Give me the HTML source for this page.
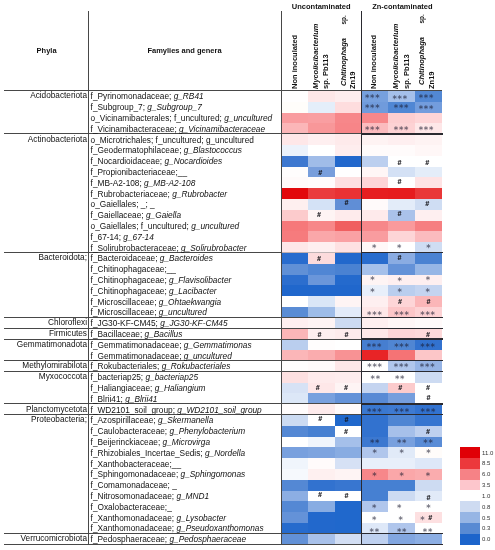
<!DOCTYPE html>
<html><head><meta charset="utf-8"><title>Heatmap</title>
<style>
html,body{margin:0;padding:0;background:#fff}
body{width:495px;height:550px;position:relative;overflow:hidden;font-family:"Liberation Sans",Arial,sans-serif;color:#111}
.c{position:absolute}
.ph{position:absolute;left:0;width:87px;margin-top:0.8px;text-align:right;font-size:8.25px;line-height:10.8px;height:10.8px;white-space:nowrap}
.fa{position:absolute;left:90.6px;margin-top:0.8px;font-size:8.3px;line-height:10.8px;height:10.8px;white-space:nowrap}
.m{position:absolute;text-align:center;white-space:nowrap;color:rgba(25,25,45,0.64)}
.st{font-family:"DejaVu Sans",sans-serif;font-size:8.4px;font-weight:bold;letter-spacing:0.8px;text-indent:0.8px;line-height:10.8px}
.hs{font-size:6.9px;font-style:italic;font-weight:bold;line-height:10.8px;color:#15151a;-webkit-text-stroke:0.15px #15151a}
.ln{position:absolute;background:#484848}
.tk{position:absolute;background:#2a2a30}
.hd{position:absolute;font-weight:bold;font-size:7.5px;white-space:nowrap;line-height:9px;color:#111}
.rot{position:absolute;font-weight:bold;font-size:7.5px;white-space:nowrap;line-height:9px;transform-origin:0 0;transform:rotate(-90deg);color:#111}
.lg{position:absolute;left:460.3px;width:19.8px}
.ll{position:absolute;left:482px;font-size:6px;line-height:10.8px;color:#333}
</style></head><body>

<div class="c" style="left:282px;top:91px;width:26px;height:11px;background:rgb(255,254,254)"></div>
<div class="c" style="left:308px;top:91px;width:27px;height:11px;background:rgb(254,231,232)"></div>
<div class="c" style="left:335px;top:91px;width:27px;height:11px;background:rgb(254,237,238)"></div>
<div class="c" style="left:362px;top:91px;width:26px;height:11px;background:rgb(118,160,222)"></div>
<div class="c" style="left:388px;top:91px;width:27px;height:11px;background:rgb(165,192,234)"></div>
<div class="c" style="left:415px;top:91px;width:27px;height:11px;background:rgb(82,136,212)"></div>
<div class="c" style="left:282px;top:102px;width:26px;height:11px;background:rgb(255,253,250)"></div>
<div class="c" style="left:308px;top:102px;width:27px;height:11px;background:rgb(228,238,250)"></div>
<div class="c" style="left:335px;top:102px;width:27px;height:11px;background:rgb(254,221,222)"></div>
<div class="c" style="left:362px;top:102px;width:26px;height:11px;background:rgb(112,155,220)"></div>
<div class="c" style="left:388px;top:102px;width:27px;height:11px;background:rgb(80,135,212)"></div>
<div class="c" style="left:415px;top:102px;width:27px;height:11px;background:rgb(115,157,221)"></div>
<div class="c" style="left:282px;top:113px;width:26px;height:10px;background:rgb(249,156,159)"></div>
<div class="c" style="left:308px;top:113px;width:27px;height:10px;background:rgb(249,158,161)"></div>
<div class="c" style="left:335px;top:113px;width:27px;height:10px;background:rgb(247,135,138)"></div>
<div class="c" style="left:362px;top:113px;width:26px;height:10px;background:rgb(247,135,138)"></div>
<div class="c" style="left:388px;top:113px;width:27px;height:10px;background:rgb(253,206,208)"></div>
<div class="c" style="left:415px;top:113px;width:27px;height:10px;background:rgb(254,213,215)"></div>
<div class="c" style="left:282px;top:123px;width:26px;height:11px;background:rgb(251,182,184)"></div>
<div class="c" style="left:308px;top:123px;width:27px;height:11px;background:rgb(248,151,153)"></div>
<div class="c" style="left:335px;top:123px;width:27px;height:11px;background:rgb(247,133,136)"></div>
<div class="c" style="left:362px;top:123px;width:26px;height:11px;background:rgb(251,187,190)"></div>
<div class="c" style="left:388px;top:123px;width:27px;height:11px;background:rgb(253,210,212)"></div>
<div class="c" style="left:415px;top:123px;width:27px;height:11px;background:rgb(254,231,232)"></div>
<div class="c" style="left:282px;top:134px;width:26px;height:11px;background:rgb(254,231,232)"></div>
<div class="c" style="left:308px;top:134px;width:27px;height:11px;background:rgb(254,239,240)"></div>
<div class="c" style="left:335px;top:134px;width:27px;height:11px;background:rgb(254,234,235)"></div>
<div class="c" style="left:362px;top:134px;width:26px;height:11px;background:rgb(254,243,243)"></div>
<div class="c" style="left:388px;top:134px;width:27px;height:11px;background:rgb(254,239,240)"></div>
<div class="c" style="left:415px;top:134px;width:27px;height:11px;background:rgb(254,243,243)"></div>
<div class="c" style="left:282px;top:145px;width:26px;height:11px;background:rgb(236,242,251)"></div>
<div class="c" style="left:335px;top:145px;width:27px;height:11px;background:rgb(254,237,238)"></div>
<div class="c" style="left:362px;top:145px;width:26px;height:11px;background:rgb(255,251,251)"></div>
<div class="c" style="left:388px;top:145px;width:27px;height:11px;background:rgb(255,251,251)"></div>
<div class="c" style="left:415px;top:145px;width:27px;height:11px;background:rgb(255,247,247)"></div>
<div class="c" style="left:282px;top:156px;width:26px;height:11px;background:rgb(62,120,208)"></div>
<div class="c" style="left:308px;top:156px;width:27px;height:11px;background:rgb(160,188,232)"></div>
<div class="c" style="left:335px;top:156px;width:27px;height:11px;background:rgb(34,104,204)"></div>
<div class="c" style="left:362px;top:156px;width:26px;height:11px;background:rgb(188,207,239)"></div>
<div class="c" style="left:282px;top:167px;width:26px;height:10px;background:rgb(255,253,253)"></div>
<div class="c" style="left:308px;top:167px;width:27px;height:10px;background:rgb(120,158,220)"></div>
<div class="c" style="left:362px;top:167px;width:26px;height:10px;background:rgb(255,246,246)"></div>
<div class="c" style="left:388px;top:167px;width:27px;height:10px;background:rgb(212,225,245)"></div>
<div class="c" style="left:415px;top:167px;width:27px;height:10px;background:rgb(228,237,249)"></div>
<div class="c" style="left:282px;top:177px;width:26px;height:11px;background:rgb(255,250,250)"></div>
<div class="c" style="left:308px;top:177px;width:27px;height:11px;background:rgb(255,252,252)"></div>
<div class="c" style="left:335px;top:177px;width:27px;height:11px;background:rgb(253,224,225)"></div>
<div class="c" style="left:362px;top:177px;width:26px;height:11px;background:rgb(253,213,215)"></div>
<div class="c" style="left:415px;top:177px;width:27px;height:11px;background:rgb(254,227,228)"></div>
<div class="c" style="left:282px;top:188px;width:26px;height:11px;background:rgb(226,8,12)"></div>
<div class="c" style="left:308px;top:188px;width:27px;height:11px;background:rgb(234,60,61)"></div>
<div class="c" style="left:335px;top:188px;width:27px;height:11px;background:rgb(233,50,52)"></div>
<div class="c" style="left:362px;top:188px;width:26px;height:11px;background:rgb(230,30,32)"></div>
<div class="c" style="left:388px;top:188px;width:27px;height:11px;background:rgb(230,28,30)"></div>
<div class="c" style="left:415px;top:188px;width:27px;height:11px;background:rgb(233,55,56)"></div>
<div class="c" style="left:282px;top:199px;width:26px;height:11px;background:rgb(254,239,239)"></div>
<div class="c" style="left:308px;top:199px;width:27px;height:11px;background:rgb(212,226,246)"></div>
<div class="c" style="left:335px;top:199px;width:27px;height:11px;background:rgb(96,142,214)"></div>
<div class="c" style="left:362px;top:199px;width:26px;height:11px;background:rgb(255,250,250)"></div>
<div class="c" style="left:388px;top:199px;width:27px;height:11px;background:rgb(227,236,249)"></div>
<div class="c" style="left:415px;top:199px;width:27px;height:11px;background:rgb(207,221,243)"></div>
<div class="c" style="left:282px;top:210px;width:26px;height:11px;background:rgb(252,203,204)"></div>
<div class="c" style="left:308px;top:210px;width:27px;height:11px;background:rgb(254,244,244)"></div>
<div class="c" style="left:335px;top:210px;width:27px;height:11px;background:rgb(254,235,236)"></div>
<div class="c" style="left:362px;top:210px;width:26px;height:11px;background:rgb(254,234,235)"></div>
<div class="c" style="left:388px;top:210px;width:27px;height:11px;background:rgb(170,194,234)"></div>
<div class="c" style="left:415px;top:210px;width:27px;height:11px;background:rgb(254,239,240)"></div>
<div class="c" style="left:282px;top:221px;width:26px;height:10px;background:rgb(246,120,122)"></div>
<div class="c" style="left:308px;top:221px;width:27px;height:10px;background:rgb(247,135,137)"></div>
<div class="c" style="left:335px;top:221px;width:27px;height:10px;background:rgb(240,95,96)"></div>
<div class="c" style="left:362px;top:221px;width:26px;height:10px;background:rgb(247,135,138)"></div>
<div class="c" style="left:388px;top:221px;width:27px;height:10px;background:rgb(249,154,156)"></div>
<div class="c" style="left:415px;top:221px;width:27px;height:10px;background:rgb(246,127,129)"></div>
<div class="c" style="left:282px;top:231px;width:26px;height:11px;background:rgb(246,123,125)"></div>
<div class="c" style="left:308px;top:231px;width:27px;height:11px;background:rgb(250,167,169)"></div>
<div class="c" style="left:335px;top:231px;width:27px;height:11px;background:rgb(250,161,164)"></div>
<div class="c" style="left:362px;top:231px;width:26px;height:11px;background:rgb(249,156,159)"></div>
<div class="c" style="left:388px;top:231px;width:27px;height:11px;background:rgb(253,213,215)"></div>
<div class="c" style="left:415px;top:231px;width:27px;height:11px;background:rgb(251,187,190)"></div>
<div class="c" style="left:282px;top:242px;width:26px;height:11px;background:rgb(254,231,232)"></div>
<div class="c" style="left:308px;top:242px;width:27px;height:11px;background:rgb(254,239,240)"></div>
<div class="c" style="left:335px;top:242px;width:27px;height:11px;background:rgb(254,225,226)"></div>
<div class="c" style="left:362px;top:242px;width:26px;height:11px;background:rgb(255,247,247)"></div>
<div class="c" style="left:415px;top:242px;width:27px;height:11px;background:rgb(207,221,243)"></div>
<div class="c" style="left:282px;top:253px;width:26px;height:11px;background:rgb(40,108,206)"></div>
<div class="c" style="left:308px;top:253px;width:27px;height:11px;background:rgb(252,219,220)"></div>
<div class="c" style="left:335px;top:253px;width:27px;height:11px;background:rgb(34,104,204)"></div>
<div class="c" style="left:362px;top:253px;width:26px;height:11px;background:rgb(40,108,206)"></div>
<div class="c" style="left:388px;top:253px;width:27px;height:11px;background:rgb(138,172,226)"></div>
<div class="c" style="left:415px;top:253px;width:27px;height:11px;background:rgb(74,130,210)"></div>
<div class="c" style="left:282px;top:264px;width:26px;height:11px;background:rgb(96,144,214)"></div>
<div class="c" style="left:308px;top:264px;width:27px;height:11px;background:rgb(80,134,212)"></div>
<div class="c" style="left:335px;top:264px;width:27px;height:11px;background:rgb(74,130,210)"></div>
<div class="c" style="left:362px;top:264px;width:26px;height:11px;background:rgb(165,192,234)"></div>
<div class="c" style="left:388px;top:264px;width:27px;height:11px;background:rgb(100,146,216)"></div>
<div class="c" style="left:415px;top:264px;width:27px;height:11px;background:rgb(150,182,230)"></div>
<div class="c" style="left:282px;top:275px;width:26px;height:10px;background:rgb(44,110,206)"></div>
<div class="c" style="left:308px;top:275px;width:27px;height:10px;background:rgb(106,150,218)"></div>
<div class="c" style="left:335px;top:275px;width:27px;height:10px;background:rgb(36,106,205)"></div>
<div class="c" style="left:362px;top:275px;width:26px;height:10px;background:rgb(254,244,244)"></div>
<div class="c" style="left:388px;top:275px;width:27px;height:10px;background:rgb(254,239,240)"></div>
<div class="c" style="left:415px;top:275px;width:27px;height:10px;background:rgb(254,239,240)"></div>
<div class="c" style="left:282px;top:285px;width:26px;height:11px;background:rgb(32,103,204)"></div>
<div class="c" style="left:308px;top:285px;width:27px;height:11px;background:rgb(32,103,204)"></div>
<div class="c" style="left:335px;top:285px;width:27px;height:11px;background:rgb(32,103,204)"></div>
<div class="c" style="left:362px;top:285px;width:26px;height:11px;background:rgb(232,239,250)"></div>
<div class="c" style="left:388px;top:285px;width:27px;height:11px;background:rgb(186,206,238)"></div>
<div class="c" style="left:415px;top:285px;width:27px;height:11px;background:rgb(196,212,240)"></div>
<div class="c" style="left:308px;top:296px;width:27px;height:11px;background:rgb(218,230,247)"></div>
<div class="c" style="left:335px;top:296px;width:27px;height:11px;background:rgb(254,244,244)"></div>
<div class="c" style="left:362px;top:296px;width:26px;height:11px;background:rgb(254,239,240)"></div>
<div class="c" style="left:388px;top:296px;width:27px;height:11px;background:rgb(253,213,215)"></div>
<div class="c" style="left:415px;top:296px;width:27px;height:11px;background:rgb(251,182,184)"></div>
<div class="c" style="left:282px;top:307px;width:26px;height:11px;background:rgb(90,140,213)"></div>
<div class="c" style="left:308px;top:307px;width:27px;height:11px;background:rgb(158,188,232)"></div>
<div class="c" style="left:335px;top:307px;width:27px;height:11px;background:rgb(227,235,249)"></div>
<div class="c" style="left:362px;top:307px;width:26px;height:11px;background:rgb(254,231,232)"></div>
<div class="c" style="left:388px;top:307px;width:27px;height:11px;background:rgb(252,198,200)"></div>
<div class="c" style="left:415px;top:307px;width:27px;height:11px;background:rgb(253,210,212)"></div>
<div class="c" style="left:282px;top:318px;width:26px;height:11px;background:rgb(254,239,240)"></div>
<div class="c" style="left:308px;top:318px;width:27px;height:11px;background:rgb(254,244,244)"></div>
<div class="c" style="left:335px;top:318px;width:27px;height:11px;background:rgb(205,219,242)"></div>
<div class="c" style="left:362px;top:318px;width:26px;height:11px;background:rgb(254,239,240)"></div>
<div class="c" style="left:388px;top:318px;width:27px;height:11px;background:rgb(255,246,246)"></div>
<div class="c" style="left:415px;top:318px;width:27px;height:11px;background:rgb(255,250,250)"></div>
<div class="c" style="left:282px;top:329px;width:26px;height:10px;background:rgb(251,182,184)"></div>
<div class="c" style="left:308px;top:329px;width:27px;height:10px;background:rgb(254,239,240)"></div>
<div class="c" style="left:335px;top:329px;width:27px;height:10px;background:rgb(254,235,236)"></div>
<div class="c" style="left:362px;top:329px;width:26px;height:10px;background:rgb(254,231,232)"></div>
<div class="c" style="left:388px;top:329px;width:27px;height:10px;background:rgb(253,213,215)"></div>
<div class="c" style="left:415px;top:329px;width:27px;height:10px;background:rgb(253,217,218)"></div>
<div class="c" style="left:282px;top:339px;width:26px;height:11px;background:rgb(186,206,238)"></div>
<div class="c" style="left:308px;top:339px;width:27px;height:11px;background:rgb(255,253,253)"></div>
<div class="c" style="left:362px;top:339px;width:26px;height:11px;background:rgb(70,126,208)"></div>
<div class="c" style="left:388px;top:339px;width:27px;height:11px;background:rgb(80,134,211)"></div>
<div class="c" style="left:415px;top:339px;width:27px;height:11px;background:rgb(50,114,207)"></div>
<div class="c" style="left:282px;top:350px;width:26px;height:11px;background:rgb(251,182,184)"></div>
<div class="c" style="left:308px;top:350px;width:27px;height:11px;background:rgb(250,172,174)"></div>
<div class="c" style="left:335px;top:350px;width:27px;height:11px;background:rgb(248,146,148)"></div>
<div class="c" style="left:362px;top:350px;width:26px;height:11px;background:rgb(232,36,38)"></div>
<div class="c" style="left:388px;top:350px;width:27px;height:11px;background:rgb(245,115,117)"></div>
<div class="c" style="left:415px;top:350px;width:27px;height:11px;background:rgb(252,198,200)"></div>
<div class="c" style="left:282px;top:361px;width:26px;height:11px;background:rgb(255,253,253)"></div>
<div class="c" style="left:308px;top:361px;width:27px;height:11px;background:rgb(255,250,250)"></div>
<div class="c" style="left:335px;top:361px;width:27px;height:11px;background:rgb(254,231,232)"></div>
<div class="c" style="left:388px;top:361px;width:27px;height:11px;background:rgb(176,198,236)"></div>
<div class="c" style="left:415px;top:361px;width:27px;height:11px;background:rgb(150,180,229)"></div>
<div class="c" style="left:282px;top:372px;width:26px;height:11px;background:rgb(253,224,225)"></div>
<div class="c" style="left:308px;top:372px;width:27px;height:11px;background:rgb(254,235,236)"></div>
<div class="c" style="left:335px;top:372px;width:27px;height:11px;background:rgb(254,237,238)"></div>
<div class="c" style="left:415px;top:372px;width:27px;height:11px;background:rgb(205,219,242)"></div>
<div class="c" style="left:282px;top:383px;width:26px;height:10px;background:rgb(215,226,245)"></div>
<div class="c" style="left:308px;top:383px;width:27px;height:10px;background:rgb(254,231,232)"></div>
<div class="c" style="left:335px;top:383px;width:27px;height:10px;background:rgb(254,244,244)"></div>
<div class="c" style="left:362px;top:383px;width:26px;height:10px;background:rgb(196,212,240)"></div>
<div class="c" style="left:388px;top:383px;width:27px;height:10px;background:rgb(252,203,204)"></div>
<div class="c" style="left:282px;top:393px;width:26px;height:11px;background:rgb(220,231,247)"></div>
<div class="c" style="left:308px;top:393px;width:27px;height:11px;background:rgb(120,160,222)"></div>
<div class="c" style="left:335px;top:393px;width:27px;height:11px;background:rgb(100,146,216)"></div>
<div class="c" style="left:362px;top:393px;width:26px;height:11px;background:rgb(88,138,213)"></div>
<div class="c" style="left:388px;top:393px;width:27px;height:11px;background:rgb(118,158,221)"></div>
<div class="c" style="left:282px;top:404px;width:26px;height:11px;background:rgb(255,252,252)"></div>
<div class="c" style="left:308px;top:404px;width:27px;height:11px;background:rgb(254,235,236)"></div>
<div class="c" style="left:335px;top:404px;width:27px;height:11px;background:rgb(255,250,250)"></div>
<div class="c" style="left:362px;top:404px;width:26px;height:11px;background:rgb(58,120,208)"></div>
<div class="c" style="left:388px;top:404px;width:27px;height:11px;background:rgb(62,122,209)"></div>
<div class="c" style="left:415px;top:404px;width:27px;height:11px;background:rgb(50,114,207)"></div>
<div class="c" style="left:282px;top:415px;width:26px;height:11px;background:rgb(204,219,242)"></div>
<div class="c" style="left:335px;top:415px;width:27px;height:11px;background:rgb(32,104,204)"></div>
<div class="c" style="left:362px;top:415px;width:26px;height:11px;background:rgb(50,114,207)"></div>
<div class="c" style="left:388px;top:415px;width:27px;height:11px;background:rgb(78,133,211)"></div>
<div class="c" style="left:415px;top:415px;width:27px;height:11px;background:rgb(54,117,208)"></div>
<div class="c" style="left:282px;top:426px;width:26px;height:11px;background:rgb(84,136,212)"></div>
<div class="c" style="left:308px;top:426px;width:27px;height:11px;background:rgb(70,128,210)"></div>
<div class="c" style="left:362px;top:426px;width:26px;height:11px;background:rgb(50,114,207)"></div>
<div class="c" style="left:388px;top:426px;width:27px;height:11px;background:rgb(166,192,234)"></div>
<div class="c" style="left:415px;top:426px;width:27px;height:11px;background:rgb(190,208,239)"></div>
<div class="c" style="left:308px;top:437px;width:27px;height:10px;background:rgb(240,245,252)"></div>
<div class="c" style="left:335px;top:437px;width:27px;height:10px;background:rgb(165,192,234)"></div>
<div class="c" style="left:362px;top:437px;width:26px;height:10px;background:rgb(60,120,208)"></div>
<div class="c" style="left:388px;top:437px;width:27px;height:10px;background:rgb(120,160,222)"></div>
<div class="c" style="left:415px;top:437px;width:27px;height:10px;background:rgb(90,140,214)"></div>
<div class="c" style="left:282px;top:447px;width:26px;height:11px;background:rgb(120,160,222)"></div>
<div class="c" style="left:308px;top:447px;width:27px;height:11px;background:rgb(126,164,223)"></div>
<div class="c" style="left:335px;top:447px;width:27px;height:11px;background:rgb(136,172,226)"></div>
<div class="c" style="left:362px;top:447px;width:26px;height:11px;background:rgb(176,198,236)"></div>
<div class="c" style="left:388px;top:447px;width:27px;height:11px;background:rgb(225,234,248)"></div>
<div class="c" style="left:415px;top:447px;width:27px;height:11px;background:rgb(255,252,250)"></div>
<div class="c" style="left:282px;top:458px;width:26px;height:11px;background:rgb(240,245,252)"></div>
<div class="c" style="left:308px;top:458px;width:27px;height:11px;background:rgb(255,251,251)"></div>
<div class="c" style="left:335px;top:458px;width:27px;height:11px;background:rgb(214,225,245)"></div>
<div class="c" style="left:362px;top:458px;width:26px;height:11px;background:rgb(232,239,250)"></div>
<div class="c" style="left:388px;top:458px;width:27px;height:11px;background:rgb(232,239,250)"></div>
<div class="c" style="left:415px;top:458px;width:27px;height:11px;background:rgb(222,232,248)"></div>
<div class="c" style="left:282px;top:469px;width:26px;height:11px;background:rgb(246,249,253)"></div>
<div class="c" style="left:308px;top:469px;width:27px;height:11px;background:rgb(254,240,240)"></div>
<div class="c" style="left:335px;top:469px;width:27px;height:11px;background:rgb(254,244,244)"></div>
<div class="c" style="left:362px;top:469px;width:26px;height:11px;background:rgb(247,135,138)"></div>
<div class="c" style="left:388px;top:469px;width:27px;height:11px;background:rgb(250,167,169)"></div>
<div class="c" style="left:415px;top:469px;width:27px;height:11px;background:rgb(250,172,174)"></div>
<div class="c" style="left:282px;top:480px;width:26px;height:11px;background:rgb(84,136,212)"></div>
<div class="c" style="left:308px;top:480px;width:27px;height:11px;background:rgb(50,114,207)"></div>
<div class="c" style="left:335px;top:480px;width:27px;height:11px;background:rgb(56,118,208)"></div>
<div class="c" style="left:362px;top:480px;width:26px;height:11px;background:rgb(70,128,210)"></div>
<div class="c" style="left:388px;top:480px;width:27px;height:11px;background:rgb(70,128,210)"></div>
<div class="c" style="left:415px;top:480px;width:27px;height:11px;background:rgb(205,219,242)"></div>
<div class="c" style="left:282px;top:491px;width:26px;height:10px;background:rgb(140,174,227)"></div>
<div class="c" style="left:362px;top:491px;width:26px;height:10px;background:rgb(70,128,210)"></div>
<div class="c" style="left:388px;top:491px;width:27px;height:10px;background:rgb(205,219,242)"></div>
<div class="c" style="left:415px;top:491px;width:27px;height:10px;background:rgb(225,234,248)"></div>
<div class="c" style="left:282px;top:501px;width:26px;height:11px;background:rgb(84,136,212)"></div>
<div class="c" style="left:308px;top:501px;width:27px;height:11px;background:rgb(136,172,226)"></div>
<div class="c" style="left:335px;top:501px;width:27px;height:11px;background:rgb(32,104,204)"></div>
<div class="c" style="left:362px;top:501px;width:26px;height:11px;background:rgb(176,198,236)"></div>
<div class="c" style="left:282px;top:512px;width:26px;height:11px;background:rgb(100,146,216)"></div>
<div class="c" style="left:308px;top:512px;width:27px;height:11px;background:rgb(34,104,204)"></div>
<div class="c" style="left:335px;top:512px;width:27px;height:11px;background:rgb(32,104,204)"></div>
<div class="c" style="left:415px;top:512px;width:27px;height:11px;background:rgb(253,224,225)"></div>
<div class="c" style="left:282px;top:523px;width:26px;height:11px;background:rgb(38,107,205)"></div>
<div class="c" style="left:308px;top:523px;width:27px;height:11px;background:rgb(34,104,204)"></div>
<div class="c" style="left:335px;top:523px;width:27px;height:11px;background:rgb(32,104,204)"></div>
<div class="c" style="left:362px;top:523px;width:26px;height:11px;background:rgb(222,232,248)"></div>
<div class="c" style="left:388px;top:523px;width:27px;height:11px;background:rgb(176,198,236)"></div>
<div class="c" style="left:282px;top:534px;width:26px;height:11px;background:rgb(98,145,215)"></div>
<div class="c" style="left:308px;top:534px;width:27px;height:11px;background:rgb(168,193,234)"></div>
<div class="c" style="left:335px;top:534px;width:27px;height:11px;background:rgb(210,222,243)"></div>
<div class="c" style="left:362px;top:534px;width:26px;height:11px;background:rgb(190,208,239)"></div>
<div class="c" style="left:388px;top:534px;width:27px;height:11px;background:rgb(130,166,224)"></div>
<div class="c" style="left:415px;top:534px;width:27px;height:11px;background:rgb(140,174,227)"></div>


<div class="ln" style="left:4px;top:90.1px;width:358px;height:1px"></div>
<div class="ln" style="left:362px;top:90.1px;width:80px;height:1px"></div>
<div class="ln" style="left:4px;top:133.3px;width:358px;height:1px"></div>
<div class="tk" style="left:362px;top:133.1px;width:80.5px;height:1.5px"></div>
<div class="ln" style="left:4px;top:252.1px;width:278px;height:1px"></div>
<div class="ln" style="left:282px;top:252.1px;width:80px;height:1px;opacity:.35"></div>
<div class="tk" style="left:362px;top:251.8px;width:80.5px;height:1.5px"></div>
<div class="ln" style="left:4px;top:316.9px;width:358px;height:1px"></div>
<div class="tk" style="left:362px;top:316.6px;width:80.5px;height:1.5px"></div>
<div class="ln" style="left:4px;top:327.7px;width:358px;height:1px"></div>
<div class="tk" style="left:362px;top:327.5px;width:80.5px;height:1.5px"></div>
<div class="ln" style="left:4px;top:338.5px;width:358px;height:1px"></div>
<div class="tk" style="left:362px;top:338.2px;width:80.5px;height:1.5px"></div>
<div class="ln" style="left:4px;top:360.1px;width:358px;height:1px"></div>
<div class="tk" style="left:362px;top:359.9px;width:80.5px;height:1.5px"></div>
<div class="ln" style="left:4px;top:370.9px;width:358px;height:1px"></div>
<div class="tk" style="left:362px;top:370.6px;width:80.5px;height:1.5px"></div>
<div class="ln" style="left:4px;top:403.3px;width:358px;height:1px"></div>
<div class="tk" style="left:362px;top:403.1px;width:80.5px;height:1.5px"></div>
<div class="ln" style="left:4px;top:414.1px;width:358px;height:1px"></div>
<div class="tk" style="left:362px;top:413.9px;width:80.5px;height:1.5px"></div>
<div class="ln" style="left:4px;top:532.9px;width:358px;height:1px"></div>
<div class="tk" style="left:362px;top:532.6px;width:80.5px;height:1.5px"></div>
<div class="ln" style="left:4px;top:543.7px;width:358px;height:1px"></div>
<div class="tk" style="left:362px;top:543.5px;width:80.5px;height:1.5px"></div>
<div class="ln" style="left:88.4px;top:10.6px;width:1px;height:533.6px"></div>
<div class="ln" style="left:281px;top:11px;width:1px;height:533.9px"></div>
<div class="tk" style="left:361px;top:11px;width:1.3px;height:534.3px"></div>


<div class="ph" style="top:90.6px">Acidobacteriota</div>
<div class="fa" style="top:90.6px">f_Pyrinomonadaceae; <i>g_RB41</i></div>
<div class="m st" style="left:359.3px;width:26px;top:93.1px">***</div>
<div class="m st" style="left:386.8px;width:26px;top:93.6px">***</div>
<div class="m st" style="left:413.0px;width:26px;top:93.1px">***</div>
<div class="fa" style="top:101.4px">f_Subgroup_7; <i>g_Subgroup_7</i></div>
<div class="m st" style="left:359.3px;width:26px;top:103.2px">***</div>
<div class="m st" style="left:388.1px;width:26px;top:102.7px">***</div>
<div class="m st" style="left:413.0px;width:26px;top:103.5px">***</div>
<div class="fa" style="top:112.2px">o_Vicinamibacterales; f_uncultured; <i>g_uncultured</i></div>
<div class="fa" style="top:123.0px">f_Vicinamibacteraceae; <i>g_Vicinamibacteraceae</i></div>
<div class="m st" style="left:359.3px;width:26px;top:125.4px">***</div>
<div class="m st" style="left:388.1px;width:26px;top:125.4px">***</div>
<div class="m st" style="left:413.0px;width:26px;top:125.4px">***</div>
<div class="ph" style="top:133.8px">Actinobacteriota</div>
<div class="fa" style="top:133.8px">o_Microtrichales; f_uncultured; g_uncultured</div>
<div class="fa" style="top:144.6px">f_Geodermatophilaceae; <i>g_Blastococcus</i></div>
<div class="fa" style="top:155.4px">f_Nocardioidaceae; <i>g_Nocardioides</i></div>
<div class="m hs" style="left:386.3px;width:26px;top:157.5px">#</div>
<div class="m hs" style="left:414.1px;width:26px;top:157.5px">#</div>
<div class="fa" style="top:166.2px">f_Propionibacteriaceae;__</div>
<div class="m hs" style="left:307.2px;width:26px;top:168.4px">#</div>
<div class="fa" style="top:177.0px">f_MB-A2-108; <i>g_MB-A2-108</i></div>
<div class="m hs" style="left:386.3px;width:26px;top:177.4px">#</div>
<div class="fa" style="top:187.8px">f_Rubrobacteriaceae; <i>g_Rubrobacter</i></div>
<div class="fa" style="top:198.6px">o_Gaiellales; _; _</div>
<div class="m hs" style="left:333.4px;width:26px;top:197.9px">#</div>
<div class="m hs" style="left:414.1px;width:26px;top:198.8px">#</div>
<div class="fa" style="top:209.4px">f_Gaiellaceae; <i>g_Gaiella</i></div>
<div class="m hs" style="left:306.0px;width:26px;top:209.6px">#</div>
<div class="m hs" style="left:386.3px;width:26px;top:209.1px">#</div>
<div class="fa" style="top:220.2px">o_Gaiellales; f_uncultured; <i>g_uncultured</i></div>
<div class="fa" style="top:231.0px">f_67-14; <i>g_67-14</i></div>
<div class="fa" style="top:241.8px">f_Solirubrobacteraceae; <i>g_Solirubrobacter</i></div>
<div class="m st" style="left:361.1px;width:26px;top:242.8px">*</div>
<div class="m st" style="left:386.3px;width:26px;top:242.8px">*</div>
<div class="m st" style="left:415.5px;width:26px;top:242.8px">*</div>
<div class="ph" style="top:252.6px">Bacteroidota;</div>
<div class="fa" style="top:252.6px">f_Bacteroidaceae; <i>g_Bacteroides</i></div>
<div class="m hs" style="left:306.0px;width:26px;top:253.5px">#</div>
<div class="m hs" style="left:386.3px;width:26px;top:253.0px">#</div>
<div class="fa" style="top:263.4px">f_Chitinophagaceae;__</div>
<div class="fa" style="top:274.2px">f_Chitinophagaceae; <i>g_Flavisolibacter</i></div>
<div class="m st" style="left:359.4px;width:26px;top:275.3px">*</div>
<div class="m st" style="left:386.8px;width:26px;top:276.1px">*</div>
<div class="m st" style="left:415.0px;width:26px;top:275.3px">*</div>
<div class="fa" style="top:285.0px">f_Chitinophagaceae; <i>g_Lacibacter</i></div>
<div class="m st" style="left:359.4px;width:26px;top:287.1px">*</div>
<div class="m st" style="left:386.8px;width:26px;top:287.1px">*</div>
<div class="m st" style="left:414.7px;width:26px;top:287.1px">*</div>
<div class="fa" style="top:295.8px">f_Microscillaceae; <i>g_Ohtaekwangia</i></div>
<div class="m hs" style="left:386.8px;width:26px;top:297.3px">#</div>
<div class="m hs" style="left:415.5px;width:26px;top:297.3px">#</div>
<div class="fa" style="top:306.6px">f_Microscillaceae; <i>g_uncultured</i></div>
<div class="m st" style="left:361.4px;width:26px;top:309.7px">***</div>
<div class="m st" style="left:388.5px;width:26px;top:309.7px">***</div>
<div class="m st" style="left:414.6px;width:26px;top:309.7px">***</div>
<div class="ph" style="top:317.4px">Chloroflexi</div>
<div class="fa" style="top:317.4px">f_JG30-KF-CM45; <i>g_JG30-KF-CM45</i></div>
<div class="ph" style="top:328.2px">Firmicutes</div>
<div class="fa" style="top:328.2px">f_Bacillaceae; <i>g_Bacillus</i></div>
<div class="m hs" style="left:306.3px;width:26px;top:329.5px">#</div>
<div class="m hs" style="left:333.4px;width:26px;top:329.5px">#</div>
<div class="m hs" style="left:415.0px;width:26px;top:329.5px">#</div>
<div class="ph" style="top:339.0px">Gemmatimonadota</div>
<div class="fa" style="top:339.0px">f_Gemmatimonadaceae; <i>g_Gemmatimonas</i></div>
<div class="m st" style="left:361.0px;width:26px;top:342.1px">***</div>
<div class="m st" style="left:388.5px;width:26px;top:342.1px">***</div>
<div class="m st" style="left:414.6px;width:26px;top:342.1px">***</div>
<div class="fa" style="top:349.8px">f_Gemmatimonadaceae; <i>g_uncultured</i></div>
<div class="ph" style="top:360.6px">Methylomirabilota</div>
<div class="fa" style="top:360.6px">f_Rokubacteriales; <i>g_Rokubacteriales</i></div>
<div class="m st" style="left:361.6px;width:26px;top:362.1px">***</div>
<div class="m st" style="left:388.1px;width:26px;top:362.1px">***</div>
<div class="m st" style="left:414.2px;width:26px;top:362.1px">***</div>
<div class="ph" style="top:371.4px">Myxococcota</div>
<div class="fa" style="top:371.4px">f_bacteriap25; <i>g_bacteriap25</i></div>
<div class="m st" style="left:362.3px;width:26px;top:374.2px">**</div>
<div class="m st" style="left:386.7px;width:26px;top:373.8px">**</div>
<div class="fa" style="top:382.2px">f_Haliangiaceae; <i>g_Haliangium</i></div>
<div class="m hs" style="left:304.6px;width:26px;top:382.8px">#</div>
<div class="m hs" style="left:332.9px;width:26px;top:382.8px">#</div>
<div class="m hs" style="left:387.2px;width:26px;top:383.3px">#</div>
<div class="m hs" style="left:415.0px;width:26px;top:382.5px">#</div>
<div class="fa" style="top:393.0px">f_Blrii41; <i>g_Blrii41</i></div>
<div class="m hs" style="left:415.5px;width:26px;top:393.2px">#</div>
<div class="ph" style="top:403.8px">Planctomycetota</div>
<div class="fa" style="top:403.8px">f_WD2101_soil_group; <i>g_WD2101_soil_group</i></div>
<div class="m st" style="left:361.3px;width:26px;top:407.3px">***</div>
<div class="m st" style="left:388.7px;width:26px;top:407.3px">***</div>
<div class="m st" style="left:414.9px;width:26px;top:407.3px">***</div>
<div class="ph" style="top:414.6px">Proteobacteria;</div>
<div class="fa" style="top:414.6px">f_Azospirillaceae; <i>g_Skermanella</i></div>
<div class="m hs" style="left:307.2px;width:26px;top:414.1px">#</div>
<div class="m hs" style="left:333.4px;width:26px;top:415.1px">#</div>
<div class="fa" style="top:425.4px">f_Caulobacteraceae; <i>g_Phenylobacterium</i></div>
<div class="m hs" style="left:332.9px;width:26px;top:426.8px">#</div>
<div class="m hs" style="left:415.0px;width:26px;top:426.8px">#</div>
<div class="fa" style="top:436.2px">f_Beijerinckiaceae; <i>g_Microvirga</i></div>
<div class="m st" style="left:361.7px;width:26px;top:438.1px">**</div>
<div class="m st" style="left:388.7px;width:26px;top:438.1px">**</div>
<div class="m st" style="left:415.0px;width:26px;top:438.1px">**</div>
<div class="fa" style="top:447.0px">f_Rhizobiales_Incertae_Sedis; <i>g_Nordella</i></div>
<div class="m st" style="left:361.8px;width:26px;top:447.8px">*</div>
<div class="m st" style="left:388.6px;width:26px;top:448.1px">*</div>
<div class="m st" style="left:415.5px;width:26px;top:448.1px">*</div>
<div class="fa" style="top:457.8px">f_Xanthobacteraceae;__</div>
<div class="fa" style="top:468.6px">f_Sphingomonadaceae; <i>g_Sphingomonas</i></div>
<div class="m st" style="left:361.4px;width:26px;top:471.2px">*</div>
<div class="m st" style="left:388.6px;width:26px;top:471.2px">*</div>
<div class="m st" style="left:415.0px;width:26px;top:471.2px">*</div>
<div class="fa" style="top:479.4px">f_Comamonadaceae; _</div>
<div class="fa" style="top:490.2px">f_Nitrosomonadaceae; <i>g_MND1</i></div>
<div class="m hs" style="left:306.8px;width:26px;top:490.2px">#</div>
<div class="m hs" style="left:333.4px;width:26px;top:490.5px">#</div>
<div class="m hs" style="left:415.5px;width:26px;top:492.8px">#</div>
<div class="fa" style="top:501.0px">f_Oxalobacteraceae;_</div>
<div class="m st" style="left:361.1px;width:26px;top:503.2px">*</div>
<div class="m st" style="left:386.3px;width:26px;top:503.2px">*</div>
<div class="m st" style="left:415.5px;width:26px;top:503.2px">*</div>
<div class="fa" style="top:511.8px">f_Xanthomonadaceae; <i>g_Lysobacter</i></div>
<div class="m st" style="left:361.1px;width:26px;top:515.0px">*</div>
<div class="m st" style="left:387.7px;width:26px;top:515.0px">*</div>
<div class="m st" style="left:409.4px;width:26px;top:515.0px">*</div>
<div class="m hs" style="left:417.2px;width:26px;top:512.8px">#</div>
<div class="fa" style="top:522.6px">f_Xanthomonadaceae; <i>g_Pseudoxanthomonas</i></div>
<div class="m st" style="left:361.4px;width:26px;top:526.6px">**</div>
<div class="m st" style="left:388.7px;width:26px;top:526.6px">**</div>
<div class="m st" style="left:414.6px;width:26px;top:526.6px">**</div>
<div class="ph" style="top:533.4px">Verrucomicrobiota</div>
<div class="fa" style="top:533.4px">f_Pedosphaeraceae; <i>g_Pedosphaeraceae</i></div>


<div class="hd" style="left:36.6px;top:46px">Phyla</div>
<div class="hd" style="left:147.4px;top:46px">Famylies and genera</div>
<div class="hd" style="left:291.8px;top:1.5px">Uncontaminated</div>
<div class="hd" style="left:372.2px;top:1.5px">Zn-contaminated</div>
<div class="rot" style="left:289.8px;top:89.3px">Non inoculated</div>
<div class="rot" style="left:311.2px;top:89.3px"><i>Mycolicibacterium</i></div>
<div class="rot" style="left:321.4px;top:89.3px">sp. Pb113</div>
<div class="rot" style="left:338.5px;top:86.1px"><i>Chitinophaga</i><span style="display:inline-block;width:13.5px"></span><span style="font-size:6.5px">sp.</span></div>
<div class="rot" style="left:347.7px;top:89.3px">Zn19</div>
<div class="rot" style="left:369.4px;top:89.3px">Non inoculated</div>
<div class="rot" style="left:391.3px;top:89.3px"><i>Mycolicibacterium</i></div>
<div class="rot" style="left:401.7px;top:89.3px">sp. Pb113</div>
<div class="rot" style="left:417.2px;top:85.3px"><i>Chitinophaga</i><span style="display:inline-block;width:13.5px"></span><span style="font-size:6.5px">sp.</span></div>
<div class="rot" style="left:426.7px;top:89.3px">Zn19</div>


<div class="lg" style="top:447px;height:11px;background:rgb(224,0,6)"></div>
<div class="ll" style="top:447.5px">11.0</div>
<div class="lg" style="top:458px;height:11px;background:rgb(236,56,60)"></div>
<div class="ll" style="top:458.3px">8.5</div>
<div class="lg" style="top:469px;height:11px;background:rgb(246,130,134)"></div>
<div class="ll" style="top:469.2px">6.0</div>
<div class="lg" style="top:480px;height:10px;background:rgb(253,198,204)"></div>
<div class="ll" style="top:480.0px">3.5</div>
<div class="ll" style="top:490.9px">1.0</div>
<div class="lg" style="top:501px;height:11px;background:rgb(206,219,241)"></div>
<div class="ll" style="top:501.7px">0.8</div>
<div class="lg" style="top:512px;height:11px;background:rgb(150,181,228)"></div>
<div class="ll" style="top:512.5px">0.5</div>
<div class="lg" style="top:523px;height:11px;background:rgb(88,138,211)"></div>
<div class="ll" style="top:523.4px">0.3</div>
<div class="lg" style="top:534px;height:11px;background:rgb(28,100,203)"></div>
<div class="ll" style="top:534.2px">0.0</div>

</body></html>
